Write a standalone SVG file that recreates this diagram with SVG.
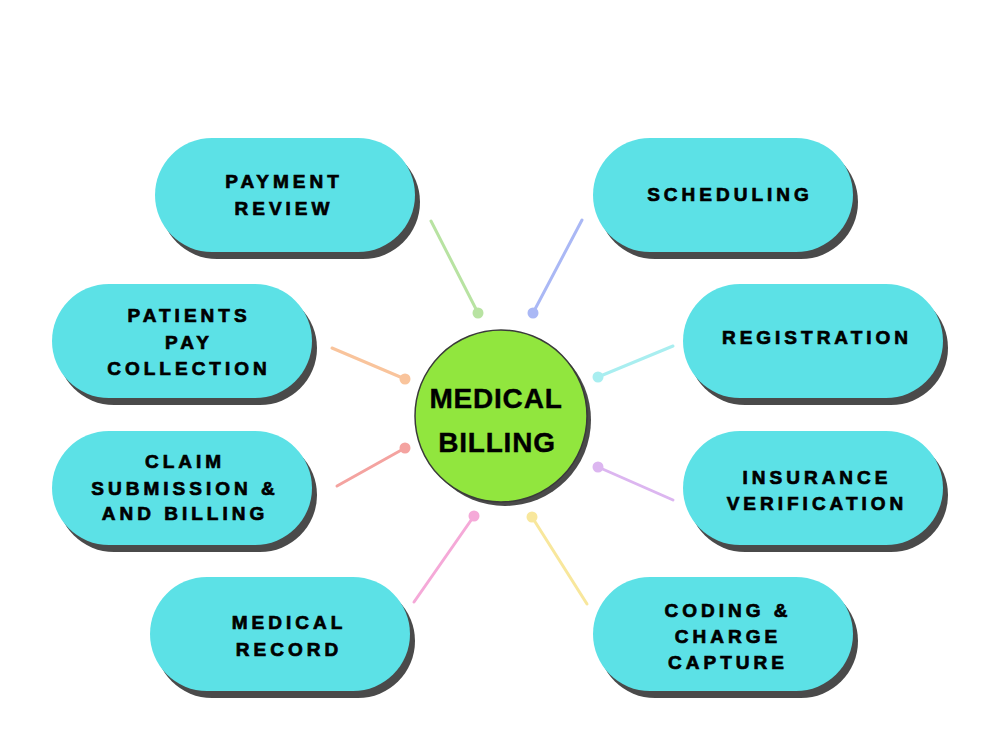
<svg xmlns="http://www.w3.org/2000/svg" width="1000" height="750" viewBox="0 0 1000 750">
<style>
.sh{fill:#4a4a4a}
.pill{fill:#5ce1e6}
.t{font-family:"Liberation Sans",Arial,sans-serif;font-weight:700;font-size:19px;letter-spacing:4px;fill:#000;stroke:#000;stroke-width:0.7px;text-anchor:middle}
.c{font-family:"Liberation Sans",Arial,sans-serif;font-weight:700;font-size:28px;letter-spacing:0.8px;fill:#000;stroke:#000;stroke-width:0.4px;text-anchor:middle}
.ln{stroke-width:3;stroke-linecap:round;fill:none}
</style>
<rect width="1000" height="750" fill="#fff"/>
<g id="connectors">
<line class="ln" x1="431" y1="221" x2="478" y2="313" stroke="#b8e3a2"/><circle cx="478" cy="313" r="5.5" fill="#b8e3a2"/>
<line class="ln" x1="582" y1="220" x2="533" y2="313" stroke="#aab8f5"/><circle cx="533" cy="313" r="5.5" fill="#aab8f5"/>
<line class="ln" x1="332" y1="348" x2="405" y2="379" stroke="#f9c49c"/><circle cx="405" cy="379" r="5.5" fill="#f9c49c"/>
<line class="ln" x1="673" y1="346" x2="598" y2="377" stroke="#a9eef0"/><circle cx="598" cy="377" r="5.5" fill="#a9eef0"/>
<line class="ln" x1="337" y1="486" x2="405" y2="448" stroke="#f4a3a0"/><circle cx="405" cy="448" r="5.5" fill="#f4a3a0"/>
<line class="ln" x1="673" y1="500" x2="598" y2="467" stroke="#dcb6f0"/><circle cx="598" cy="467" r="5.5" fill="#dcb6f0"/>
<line class="ln" x1="414" y1="602" x2="474" y2="516" stroke="#f5a9d8"/><circle cx="474" cy="516" r="5.5" fill="#f5a9d8"/>
<line class="ln" x1="587" y1="604" x2="532" y2="517" stroke="#f8e79c"/><circle cx="532" cy="517" r="5.5" fill="#f8e79c"/>
</g>
<g id="center">
<circle cx="505" cy="420" r="86" class="sh"/>
<circle cx="501" cy="416" r="86" fill="#91e63e" stroke="#3a3a3a" stroke-width="1.5"/>
<text class="c" x="496" y="408">MEDICAL</text>
<text class="c" x="497" y="452">BILLING</text>
</g>
<g id="payment-review">
<rect x="160" y="145" width="260" height="114" rx="57" class="sh"/>
<rect x="155" y="138" width="260" height="114" rx="57" class="pill"/>
<text class="t" x="284" y="188">PAYMENT</text>
<text class="t" x="284" y="215">REVIEW</text>
</g>
<g id="scheduling">
<rect x="598" y="145" width="260" height="114" rx="57" class="sh"/>
<rect x="593" y="138" width="260" height="114" rx="57" class="pill"/>
<text class="t" x="730" y="201">SCHEDULING</text>
</g>
<g id="patients-pay-collection">
<rect x="57" y="291" width="260" height="114" rx="57" class="sh"/>
<rect x="52" y="284" width="260" height="114" rx="57" class="pill"/>
<text class="t" x="189" y="322">PATIENTS</text>
<text class="t" x="189" y="349">PAY</text>
<text class="t" x="189" y="375">COLLECTION</text>
</g>
<g id="registration">
<rect x="688" y="291" width="260" height="114" rx="57" class="sh"/>
<rect x="683" y="284" width="260" height="114" rx="57" class="pill"/>
<text class="t" x="817" y="344">REGISTRATION</text>
</g>
<g id="claim-submission">
<rect x="57" y="438" width="260" height="114" rx="57" class="sh"/>
<rect x="52" y="431" width="260" height="114" rx="57" class="pill"/>
<text class="t" x="185" y="468">CLAIM</text>
<text class="t" x="185" y="495">SUBMISSION &amp;</text>
<text class="t" x="185" y="520">AND BILLING</text>
</g>
<g id="insurance-verification">
<rect x="688" y="438" width="260" height="114" rx="57" class="sh"/>
<rect x="683" y="431" width="260" height="114" rx="57" class="pill"/>
<text class="t" x="817" y="484">INSURANCE</text>
<text class="t" x="817" y="510">VERIFICATION</text>
</g>
<g id="medical-record">
<rect x="155" y="584" width="260" height="114" rx="57" class="sh"/>
<rect x="150" y="577" width="260" height="114" rx="57" class="pill"/>
<text class="t" x="289" y="629">MEDICAL</text>
<text class="t" x="289" y="656">RECORD</text>
</g>
<g id="coding-charge-capture">
<rect x="598" y="584" width="260" height="114" rx="57" class="sh"/>
<rect x="593" y="577" width="260" height="114" rx="57" class="pill"/>
<text class="t" x="728" y="617">CODING &amp;</text>
<text class="t" x="728" y="643">CHARGE</text>
<text class="t" x="728" y="669">CAPTURE</text>
</g>
</svg>
